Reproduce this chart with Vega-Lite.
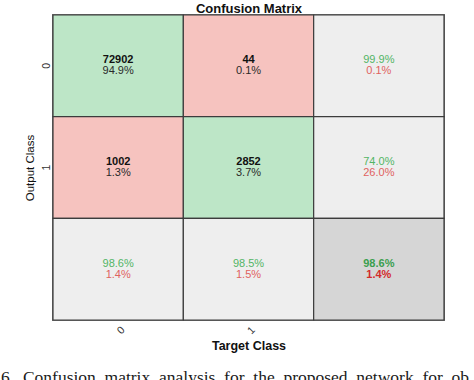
{
  "$schema": "https://vega.github.io/schema/vega-lite/v6.json",
  "autosize": {"type": "none"},
  "width": 391,
  "height": 305,
  "padding": {"left": 53, "top": 15, "right": 30, "bottom": 60},
  "background": "white",
  "config": {
    "view": {"stroke": "#707070", "strokeWidth": 2},
    "font": "Liberation Sans"
  },
  "title": {
    "text": "6.\u00a0 Confusion\u00a0 matrix\u00a0 analysis\u00a0 for\u00a0 the\u00a0 proposed\u00a0 network\u00a0 for\u00a0 ob",
    "orient": "bottom",
    "anchor": "start",
    "font": "Liberation Serif",
    "fontSize": 17.5,
    "fontWeight": "normal",
    "color": "#1a1a1a",
    "dx": -23,
    "offset": 17
  },
  "data": {
    "values": [
      {"pred": "0", "target": "0", "kind": "correct", "top": "72902", "bot": "94.9%"},
      {"pred": "0", "target": "1", "kind": "wrong", "top": "44", "bot": "0.1%"},
      {"pred": "0", "target": "All", "kind": "summary", "top": "99.9%", "bot": "0.1%"},
      {"pred": "1", "target": "0", "kind": "wrong", "top": "1002", "bot": "1.3%"},
      {"pred": "1", "target": "1", "kind": "correct", "top": "2852", "bot": "3.7%"},
      {"pred": "1", "target": "All", "kind": "summary", "top": "74.0%", "bot": "26.0%"},
      {"pred": "All", "target": "0", "kind": "summary", "top": "98.6%", "bot": "1.4%"},
      {"pred": "All", "target": "1", "kind": "summary", "top": "98.5%", "bot": "1.5%"},
      {"pred": "All", "target": "All", "kind": "total", "top": "98.6%", "bot": "1.4%"}
    ]
  },
  "resolve": {"axis": {"x": "independent"}},
  "layer": [
    {
      "mark": {"type": "rect", "stroke": "#3c3c3c", "strokeWidth": 1.2},
      "encoding": {
        "x": {
          "field": "target", "type": "nominal", "sort": ["0", "1", "All"],
          "scale": {"domain": ["0", "1", "All"], "paddingInner": 0, "paddingOuter": 0},
          "axis": {
            "orient": "bottom", "title": "Target Class", "titleFontWeight": "bold", "titleFontSize": 12.5,
            "titleColor": "#111", "titlePadding": 4,
            "labelExpr": "datum.value == 'All' ? '' : datum.value",
            "labelAngle": -45, "labelAlign": "center", "labelBaseline": "middle",
            "labelFontSize": 10.5, "labelColor": "#333", "labelPadding": 10, "labelOffset": 3,
            "ticks": false, "domain": false, "grid": false
          }
        },
        "y": {
          "field": "pred", "type": "nominal", "sort": ["0", "1", "All"],
          "scale": {"domain": ["0", "1", "All"], "paddingInner": 0, "paddingOuter": 0},
          "axis": {
            "title": "Output Class", "titleFontWeight": "normal", "titleFontSize": 11.5, "titleColor": "#111",
            "titlePadding": 6,
            "labelExpr": "datum.value == 'All' ? '' : datum.value",
            "labelAngle": -90, "labelAlign": "center", "labelBaseline": "bottom",
            "labelFontSize": 10.5, "labelColor": "#333", "labelPadding": 2,
            "ticks": false, "domain": false, "grid": false
          }
        },
        "fill": {
          "field": "kind", "type": "nominal",
          "scale": {"domain": ["correct", "wrong", "summary", "total"], "range": ["#bde6c7", "#f6c3bf", "#eeeeee", "#d6d6d6"]},
          "legend": null
        }
      }
    },
    {
      "transform": [{"filter": "datum.kind == 'correct' || datum.kind == 'wrong'"}],
      "mark": {"type": "text", "fontSize": 11, "fontWeight": "bold", "color": "#111", "dy": -5.5, "baseline": "middle"},
      "encoding": {
        "x": {
          "field": "target", "type": "nominal",
          "axis": {"orient": "top", "title": "Confusion Matrix", "titleFontWeight": "bold", "titleFontSize": 13,
                   "titleColor": "#111", "titlePadding": 0, "labels": false, "ticks": false, "domain": false, "grid": false}
        },
        "y": {"field": "pred", "type": "nominal"},
        "text": {"field": "top"}
      }
    },
    {
      "transform": [{"filter": "datum.kind == 'correct' || datum.kind == 'wrong'"}],
      "mark": {"type": "text", "fontSize": 11, "color": "#2a2a2a", "dy": 5.5, "baseline": "middle"},
      "encoding": {
        "x": {"field": "target", "type": "nominal", "axis": null},
        "y": {"field": "pred", "type": "nominal"},
        "text": {"field": "bot"}
      }
    },
    {
      "transform": [{"filter": "datum.kind == 'summary'"}],
      "mark": {"type": "text", "fontSize": 11, "color": "#52b565", "dy": -5.5, "baseline": "middle"},
      "encoding": {
        "x": {"field": "target", "type": "nominal", "axis": null},
        "y": {"field": "pred", "type": "nominal"},
        "text": {"field": "top"}
      }
    },
    {
      "transform": [{"filter": "datum.kind == 'summary'"}],
      "mark": {"type": "text", "fontSize": 11, "color": "#e0625f", "dy": 5.5, "baseline": "middle"},
      "encoding": {
        "x": {"field": "target", "type": "nominal", "axis": null},
        "y": {"field": "pred", "type": "nominal"},
        "text": {"field": "bot"}
      }
    },
    {
      "transform": [{"filter": "datum.kind == 'total'"}],
      "mark": {"type": "text", "fontSize": 11, "fontWeight": "bold", "color": "#3a9f4e", "dy": -5.5, "baseline": "middle"},
      "encoding": {
        "x": {"field": "target", "type": "nominal", "axis": null},
        "y": {"field": "pred", "type": "nominal"},
        "text": {"field": "top"}
      }
    },
    {
      "transform": [{"filter": "datum.kind == 'total'"}],
      "mark": {"type": "text", "fontSize": 11, "fontWeight": "bold", "color": "#d32b2b", "dy": 5.5, "baseline": "middle"},
      "encoding": {
        "x": {"field": "target", "type": "nominal", "axis": null},
        "y": {"field": "pred", "type": "nominal"},
        "text": {"field": "bot"}
      }
    }
  ]
}
